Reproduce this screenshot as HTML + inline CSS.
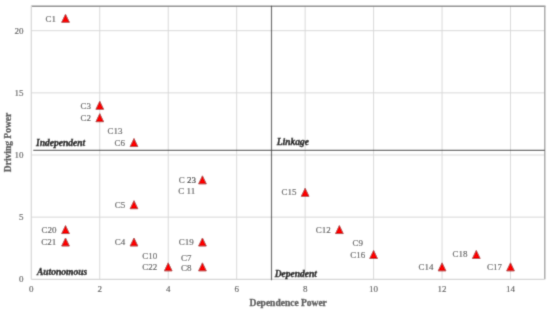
<!DOCTYPE html>
<html><head><meta charset="utf-8"><style>
html,body{margin:0;padding:0;background:#fff;}
svg{display:block;}
.g{stroke:#D9D9D9;stroke-width:1;}
.m{fill:#FF0000;stroke:#A80000;stroke-width:0.9px;stroke-linejoin:miter;}
.b{stroke:#8c8c8c;stroke-width:1.5;}
.br{stroke:#a8a8a8;stroke-width:1.5;}
.a{stroke:#D6D6D6;stroke-width:1.2;}
.d{stroke:#555;stroke-width:1.2;}
text{font-family:"Liberation Serif",serif;}
.t{font-size:9.0px;fill:#555555;stroke:#555555;stroke-width:0.15px;}
.l{font-size:9.0px;fill:#555555;stroke:#555555;stroke-width:0.15px;}
.at{font-size:9.5px;font-weight:bold;fill:#555;stroke:#555;stroke-width:0.3px;}
.dk{fill:#262626;stroke:#262626;}
.q{font-size:9.5px;font-weight:bold;font-style:italic;fill:#000;stroke:#000;stroke-width:0.3px;}
</style></head><body>
<svg width="550" height="311" viewBox="0 0 550 311">
<defs><filter id="bl" x="0" y="0" width="550" height="311" filterUnits="userSpaceOnUse"><feConvolveMatrix order="3" kernelMatrix="0.0192 0.1001 0.0192 0.1001 0.5228 0.1001 0.0192 0.1001 0.0192" edgeMode="duplicate" preserveAlpha="true"/></filter></defs>
<rect width="550" height="311" fill="#fff"/>
<g filter="url(#bl)">
<rect width="550" height="311" fill="#fff"/>
<line x1="99.76" y1="5.84" x2="99.76" y2="279.30" class="g"/>
<line x1="168.22" y1="5.84" x2="168.22" y2="279.30" class="g"/>
<line x1="236.68" y1="5.84" x2="236.68" y2="279.30" class="g"/>
<line x1="305.14" y1="5.84" x2="305.14" y2="279.30" class="g"/>
<line x1="373.60" y1="5.84" x2="373.60" y2="279.30" class="g"/>
<line x1="442.06" y1="5.84" x2="442.06" y2="279.30" class="g"/>
<line x1="510.52" y1="5.84" x2="510.52" y2="279.30" class="g"/>
<line x1="31.30" y1="217.15" x2="544.75" y2="217.15" class="g"/>
<line x1="31.30" y1="155.00" x2="544.75" y2="155.00" class="g"/>
<line x1="31.30" y1="92.85" x2="544.75" y2="92.85" class="g"/>
<line x1="31.30" y1="30.70" x2="544.75" y2="30.70" class="g"/>
<line x1="31.30" y1="6.2" x2="545.50" y2="6.2" class="b"/>
<line x1="544.75" y1="6.2" x2="544.75" y2="279.30" class="br"/>
<line x1="31.30" y1="5.84" x2="31.30" y2="279.30" class="a"/>
<line x1="31.30" y1="279.30" x2="544.75" y2="279.30" class="a"/>
<line x1="33.30" y1="150.3" x2="544.75" y2="150.3" class="d"/>
<line x1="271.5" y1="5.84" x2="271.5" y2="280.30" class="d"/>
<text x="31.30" y="292.1" class="t" text-anchor="middle">0</text>
<text x="99.76" y="292.1" class="t" text-anchor="middle">2</text>
<text x="168.22" y="292.1" class="t" text-anchor="middle">4</text>
<text x="236.68" y="292.1" class="t" text-anchor="middle">6</text>
<text x="305.14" y="292.1" class="t" text-anchor="middle">8</text>
<text x="373.60" y="292.1" class="t" text-anchor="middle">10</text>
<text x="442.06" y="292.1" class="t" text-anchor="middle">12</text>
<text x="510.52" y="292.1" class="t" text-anchor="middle">14</text>
<text x="23.6" y="282.30" class="t" text-anchor="end">0</text>
<text x="23.6" y="220.15" class="t" text-anchor="end">5</text>
<text x="23.6" y="158.00" class="t" text-anchor="end">10</text>
<text x="23.6" y="95.85" class="t" text-anchor="end">15</text>
<text x="23.6" y="33.70" class="t" text-anchor="end">20</text>
<text x="288.2" y="306" class="at" text-anchor="middle">Dependence Power</text>
<text transform="translate(10.6,142.5) rotate(-90)" class="at" text-anchor="middle">Driving Power</text>
<text x="36" y="145.5" class="q">Independent</text>
<text x="276.7" y="145.1" class="q">Linkage</text>
<text x="37" y="275" class="q">Autonomous</text>
<text x="274.7" y="277" class="q">Dependent</text>
<polygon points="65.53,14.27 69.38,22.27 61.68,22.27" class="m"/>
<polygon points="99.76,101.28 103.61,109.28 95.91,109.28" class="m"/>
<polygon points="99.76,113.71 103.61,121.71 95.91,121.71" class="m"/>
<polygon points="133.99,138.57 137.84,146.57 130.14,146.57" class="m"/>
<polygon points="202.45,175.86 206.30,183.86 198.60,183.86" class="m"/>
<polygon points="133.99,200.72 137.84,208.72 130.14,208.72" class="m"/>
<polygon points="65.53,225.58 69.38,233.58 61.68,233.58" class="m"/>
<polygon points="65.53,238.01 69.38,246.01 61.68,246.01" class="m"/>
<polygon points="133.99,238.01 137.84,246.01 130.14,246.01" class="m"/>
<polygon points="168.22,262.87 172.07,270.87 164.37,270.87" class="m"/>
<polygon points="202.45,238.01 206.30,246.01 198.60,246.01" class="m"/>
<polygon points="202.45,262.87 206.30,270.87 198.60,270.87" class="m"/>
<polygon points="305.14,188.29 308.99,196.29 301.29,196.29" class="m"/>
<polygon points="339.37,225.58 343.22,233.58 335.52,233.58" class="m"/>
<polygon points="373.60,250.44 377.45,258.44 369.75,258.44" class="m"/>
<polygon points="442.06,262.87 445.91,270.87 438.21,270.87" class="m"/>
<polygon points="476.29,250.44 480.14,258.44 472.44,258.44" class="m"/>
<polygon points="510.52,262.87 514.37,270.87 506.67,270.87" class="m"/>
<text x="50.85" y="22.10" class="l" text-anchor="middle">C1</text>
<text x="85.78" y="108.90" class="l" text-anchor="middle">C3</text>
<text x="85.65" y="121.30" class="l" text-anchor="middle">C2</text>
<text x="115.12" y="134.25" class="l" text-anchor="middle">C13</text>
<text x="119.88" y="145.95" class="l" text-anchor="middle">C6</text>
<text x="187.30" y="183.10" class="l" text-anchor="middle">C <tspan class="dk">23</tspan></text>
<text x="186.70" y="193.55" class="l" text-anchor="middle">C 11</text>
<text x="119.95" y="208.30" class="l" text-anchor="middle">C5</text>
<text x="48.98" y="232.70" class="l" text-anchor="middle">C20</text>
<text x="48.70" y="244.95" class="l" text-anchor="middle">C21</text>
<text x="120.03" y="244.95" class="l" text-anchor="middle">C4</text>
<text x="149.68" y="258.70" class="l" text-anchor="middle">C10</text>
<text x="149.70" y="270.15" class="l" text-anchor="middle">C22</text>
<text x="186.30" y="245.45" class="l" text-anchor="middle">C19</text>
<text x="186.28" y="260.85" class="l" text-anchor="middle">C7</text>
<text x="186.32" y="270.85" class="l" text-anchor="middle">C8</text>
<text x="288.95" y="195.30" class="l" text-anchor="middle">C15</text>
<text x="323.20" y="232.75" class="l" text-anchor="middle">C12</text>
<text x="357.75" y="246.35" class="l" text-anchor="middle">C9</text>
<text x="357.68" y="257.90" class="l" text-anchor="middle">C16</text>
<text x="425.93" y="270.20" class="l" text-anchor="middle">C14</text>
<text x="460.07" y="257.45" class="l" text-anchor="middle">C18</text>
<text x="494.52" y="270.00" class="l" text-anchor="middle">C17</text>
</g>
</svg>
</body></html>
